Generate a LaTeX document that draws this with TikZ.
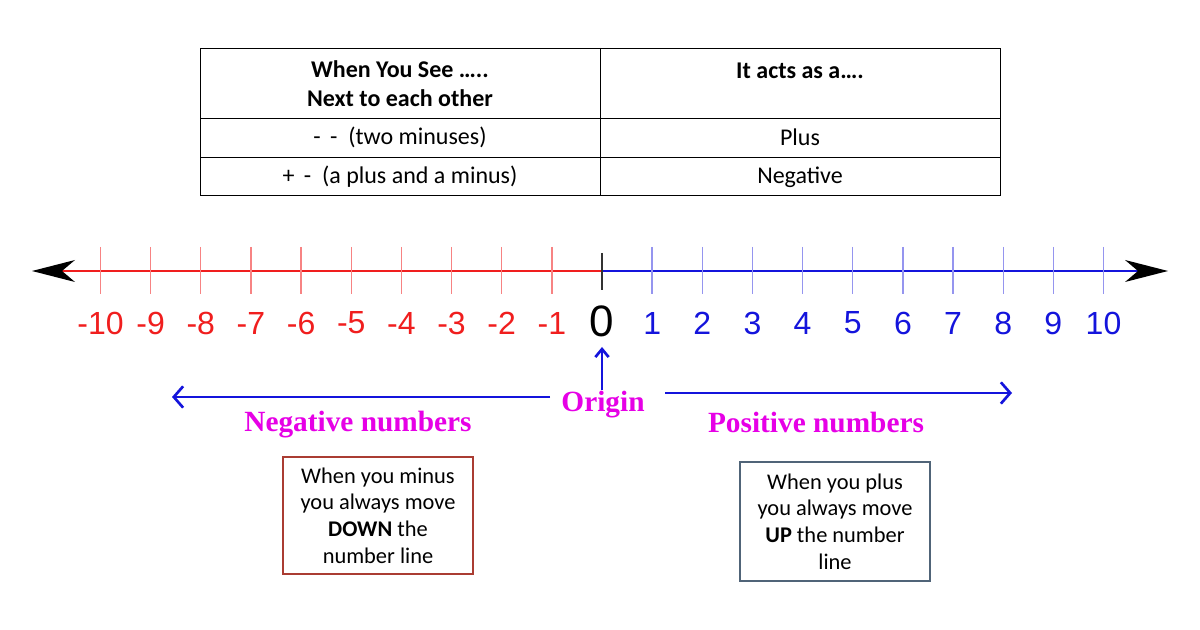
\documentclass[tikz,border=0pt]{standalone}
\usepackage{fontspec}
\setmainfont{Carlito}
\newfontfamily\arial{Liberation Sans}
\newfontfamily\tnr{Liberation Serif}
\usetikzlibrary{arrows.meta}
\definecolor{mag}{RGB}{230,0,230}
\definecolor{nred}{RGB}{240,30,30}
\definecolor{nblue}{RGB}{20,20,220}
\tikzset{
 cell/.style={font=\fontsize{18}{22}\selectfont,align=center},
 note/.style={draw,line width=0.8pt,minimum width=190*0.75pt,font=\fontsize{16.8}{20}\selectfont,align=center,inner sep=4pt},
 mlab/.style={text=mag,font=\tnr\bfseries\fontsize{22}{26}\selectfont},
 nlab/.style={font=\arial\fontsize{24}{28}\selectfont}
}
\begin{document}
\begin{tikzpicture}[x=0.75pt,y=-0.75pt]
\useasboundingbox (0,0) rectangle (1200,630);
% table
\draw[line width=0.6pt] (200,48) rectangle (1000,195);
\draw[line width=0.6pt] (200,118) -- (1000,118) (200,157) -- (1000,157) (600,48) -- (600,195);
\node[cell] (h1) at (400,84) {\textbf{When You See …..}\\\textbf{Next to each other}};
\node[cell] (h2) at (800,71) {\textbf{It acts as a….}};
\node[cell] (r1) at (400,137) {-\, -\ \ (two minuses)};
\node[cell] (r2) at (800,137) {Plus};
\node[cell] (r3) at (400,177) {+\, -\ \ (a plus and a minus)};
\node[cell] (r4) at (800,177) {Negative};
% number line
\coordinate (O) at (602,271);
\draw[nred,line width=1.5pt] (O) -- (50,271);
\draw[nblue,line width=1.5pt] (O) -- (1150,271);
\fill (32,271) -- (75,260) -- (62,271) -- (75,282) -- cycle;
\fill (1168,271) -- (1125,260) -- (1138,271) -- (1125,282) -- cycle;
\foreach \k in {1,...,10}{
 \draw[nred!55,line width=1pt] ({602-50.15*\k},247) -- ({602-50.15*\k},294);
 \node[nlab,text=nred] at ({602-50.15*\k},323) {-\k};
 \draw[nblue!45,line width=1pt] ({602+50.15*\k},247) -- ({602+50.15*\k},294);
 \node[nlab,text=nblue] at ({602+50.15*\k},323) {\k};
}
\draw[black!80,line width=1.4pt] (602,253) -- (602,290);
\node[font=\arial\fontsize{33}{36}\selectfont] (zero) at (602,321) {0};
% origin
\node[mlab] (orig) at (603,405) {Origin};
\draw[nblue,line width=2pt,-{Straight Barb[length=6pt,width=10pt]}] (602,390) -- (602,347);
\coordinate (nl) at (172,397); \coordinate (pr) at (1012,393);
\draw[nblue,line width=2pt,-{Straight Barb[length=7pt,width=16pt]}] (550,397) -- (nl);
\draw[nblue,line width=2pt,-{Straight Barb[length=7pt,width=16pt]}] (665,393) -- (pr);
\node[mlab] (neg) at (358,425) {Negative numbers};
\node[mlab] (pos) at (816,423) {Positive numbers};
% notes
\node[note,draw={rgb,255:red,170;green,60;blue,50},minimum height=117*0.75pt] (b1) at (378,515.5) {When you minus\\you always move\\\textbf{DOWN} the\\number line};
\node[note,draw={rgb,255:red,80;green,100;blue,120},minimum height=119*0.75pt] (b2) at (835,521.5) {When you plus\\you always move\\\textbf{UP} the number\\line};
\end{tikzpicture}
\end{document}
